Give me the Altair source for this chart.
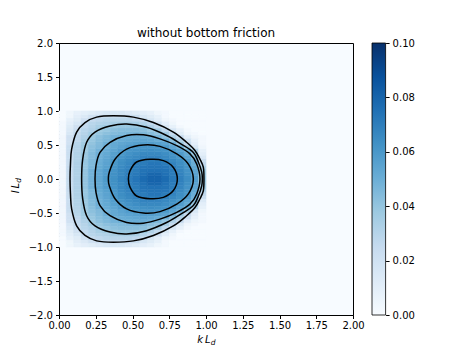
import altair as alt
import pandas as pd

# ---------------- data ----------------
k_centers = [0.025, 0.075, 0.125, 0.175, 0.225, 0.275, 0.325, 0.375, 0.425, 0.475,
             0.525, 0.575, 0.625, 0.675, 0.725, 0.775, 0.825, 0.875, 0.925, 0.975]
l_centers_upper = [0.025, 0.075, 0.125, 0.175, 0.225, 0.275, 0.325, 0.375, 0.425, 0.475,
                   0.525, 0.575, 0.625, 0.675, 0.725, 0.775, 0.825, 0.875, 0.925, 0.975]
cell_k = 0.05
cell_l = 0.05

# growth rate, one row per l (upper half; the field is symmetric in l)
growth_upper = [
    [0.003, 0.025, 0.032, 0.040, 0.048, 0.053, 0.059, 0.063, 0.067, 0.070, 0.073, 0.077, 0.080, 0.080, 0.077, 0.072, 0.069, 0.064, 0.057, 0.038],
    [0.003, 0.025, 0.032, 0.040, 0.048, 0.053, 0.058, 0.063, 0.066, 0.070, 0.072, 0.075, 0.079, 0.079, 0.075, 0.071, 0.068, 0.063, 0.055, 0.037],
    [0.003, 0.025, 0.032, 0.040, 0.048, 0.053, 0.058, 0.062, 0.066, 0.069, 0.071, 0.074, 0.075, 0.075, 0.074, 0.071, 0.067, 0.062, 0.054, 0.036],
    [0.003, 0.025, 0.032, 0.039, 0.046, 0.052, 0.056, 0.061, 0.065, 0.068, 0.071, 0.073, 0.074, 0.074, 0.073, 0.070, 0.066, 0.061, 0.053, 0.032],
    [0.003, 0.023, 0.032, 0.039, 0.045, 0.051, 0.055, 0.060, 0.064, 0.067, 0.070, 0.071, 0.073, 0.073, 0.071, 0.068, 0.064, 0.060, 0.051, 0.027],
    [0.003, 0.023, 0.031, 0.039, 0.045, 0.050, 0.054, 0.059, 0.063, 0.066, 0.068, 0.070, 0.071, 0.071, 0.069, 0.066, 0.063, 0.058, 0.049, 0.023],
    [0.003, 0.023, 0.031, 0.038, 0.044, 0.049, 0.053, 0.057, 0.061, 0.064, 0.066, 0.068, 0.068, 0.068, 0.066, 0.063, 0.060, 0.055, 0.044, 0.014],
    [0.003, 0.023, 0.031, 0.038, 0.044, 0.049, 0.052, 0.056, 0.059, 0.062, 0.064, 0.066, 0.066, 0.066, 0.064, 0.062, 0.058, 0.052, 0.039, 0.010],
    [0.003, 0.023, 0.030, 0.037, 0.043, 0.048, 0.051, 0.054, 0.058, 0.061, 0.062, 0.063, 0.064, 0.063, 0.062, 0.059, 0.055, 0.049, 0.032, 0.008],
    [0.003, 0.023, 0.030, 0.037, 0.042, 0.045, 0.049, 0.052, 0.055, 0.058, 0.060, 0.061, 0.061, 0.061, 0.059, 0.054, 0.049, 0.036, 0.016, 0.004],
    [0.003, 0.020, 0.029, 0.036, 0.040, 0.044, 0.049, 0.052, 0.053, 0.055, 0.056, 0.057, 0.057, 0.056, 0.054, 0.049, 0.038, 0.025, 0.010, 0.002],
    [0.003, 0.020, 0.027, 0.034, 0.039, 0.043, 0.046, 0.049, 0.051, 0.052, 0.053, 0.054, 0.053, 0.051, 0.049, 0.042, 0.032, 0.020, 0.008, 0.002],
    [0.003, 0.020, 0.027, 0.032, 0.038, 0.042, 0.045, 0.048, 0.050, 0.051, 0.051, 0.051, 0.050, 0.046, 0.040, 0.032, 0.025, 0.010, 0.004, 0.002],
    [0.002, 0.016, 0.026, 0.030, 0.036, 0.039, 0.042, 0.044, 0.045, 0.046, 0.046, 0.045, 0.043, 0.040, 0.036, 0.026, 0.012, 0.004, 0.002, 0.000],
    [0.002, 0.014, 0.023, 0.029, 0.032, 0.037, 0.039, 0.042, 0.043, 0.043, 0.043, 0.042, 0.039, 0.036, 0.027, 0.016, 0.008, 0.002, 0.000, 0.000],
    [0.002, 0.012, 0.020, 0.026, 0.030, 0.034, 0.037, 0.038, 0.039, 0.039, 0.039, 0.038, 0.032, 0.026, 0.016, 0.008, 0.002, 0.000, 0.000, 0.000],
    [0.002, 0.010, 0.016, 0.025, 0.029, 0.031, 0.032, 0.034, 0.034, 0.034, 0.034, 0.031, 0.027, 0.020, 0.010, 0.004, 0.000, 0.000, 0.000, 0.000],
    [0.000, 0.008, 0.012, 0.020, 0.025, 0.027, 0.029, 0.029, 0.029, 0.029, 0.027, 0.025, 0.016, 0.010, 0.004, 0.002, 0.000, 0.000, 0.000, 0.000],
    [0.000, 0.004, 0.010, 0.014, 0.020, 0.023, 0.025, 0.025, 0.025, 0.025, 0.023, 0.016, 0.012, 0.008, 0.002, 0.000, 0.000, 0.000, 0.000, 0.000],
    [0.000, 0.004, 0.008, 0.010, 0.012, 0.014, 0.016, 0.016, 0.016, 0.014, 0.012, 0.010, 0.008, 0.004, 0.002, 0.000, 0.000, 0.000, 0.000, 0.000],
]

# contour lines (upper half, from left l=0 over the top to right l=0)
contour_levels = [0.025, 0.038, 0.050, 0.060, 0.070]
contour_k = [
    [0.075, 0.078, 0.086, 0.120, 0.177, 0.256, 0.370, 0.506, 0.642, 0.778, 0.868, 0.925, 0.959, 0.982, 0.986],
    [0.154, 0.161, 0.188, 0.245, 0.347, 0.460, 0.596, 0.732, 0.834, 0.914, 0.948, 0.971, 0.975],
    [0.245, 0.252, 0.279, 0.347, 0.460, 0.574, 0.687, 0.801, 0.891, 0.937, 0.959],
    [0.336, 0.342, 0.381, 0.460, 0.574, 0.687, 0.801, 0.880, 0.914],
    [0.472, 0.483, 0.528, 0.619, 0.710, 0.778, 0.805],
]
contour_l = [
    [0.00, 0.22, 0.44, 0.69, 0.83, 0.91, 0.93, 0.91, 0.83, 0.69, 0.54, 0.42, 0.29, 0.17, 0.00],
    [0.00, 0.29, 0.54, 0.69, 0.78, 0.81, 0.76, 0.64, 0.51, 0.39, 0.25, 0.10, 0.00],
    [0.00, 0.20, 0.39, 0.54, 0.64, 0.65, 0.59, 0.49, 0.37, 0.22, 0.00],
    [0.00, 0.10, 0.29, 0.44, 0.50, 0.48, 0.37, 0.22, 0.00],
    [0.00, 0.12, 0.25, 0.29, 0.27, 0.17, 0.00],
]

x_ticks = [0.0, 0.25, 0.5, 0.75, 1.0, 1.25, 1.5, 1.75, 2.0]
y_ticks = [-2.0, -1.5, -1.0, -0.5, 0.0, 0.5, 1.0, 1.5, 2.0]
cbar_ticks = [0.0, 0.02, 0.04, 0.06, 0.08, 0.10]
title_text = "without bottom friction"

# matplotlib "Blues"
blues = ["#f7fbff", "#deebf7", "#c6dbef", "#9ecae1", "#6baed6",
         "#4292c6", "#2171b5", "#08519c", "#08306b"]
vmin, vmax = 0.0, 0.1
blues_domain = [vmin + (vmax - vmin) * i / 8 for i in range(9)]

# ---------------- tables ----------------
cells = []
for i, lc in enumerate(l_centers_upper):
    for j, kc in enumerate(k_centers):
        v = growth_upper[i][j]
        for s in (1, -1):
            c = s * lc
            cells.append({"k0": kc - cell_k / 2, "k1": kc + cell_k / 2,
                          "l0": c - cell_l / 2, "l1": c + cell_l / 2, "v": v})
cells_df = pd.DataFrame(cells)

cont_rows = []
for lev, ks, ls in zip(contour_levels, contour_k, contour_l):
    pts = list(zip(ks, ls))
    lower = [(k, -l) for k, l in reversed(pts)][1:-1]
    for idx, (k, l) in enumerate(pts + lower):
        cont_rows.append({"level": lev, "idx": idx, "k": k, "l": l})
cont_df = pd.DataFrame(cont_rows)

FONT = "DejaVu Sans"
W, H = 294, 272

color_scale = alt.Scale(domain=blues_domain, range=blues, interpolate="rgb", clamp=True)
x_scale = alt.Scale(domain=[0, 2], nice=False, zero=False)
y_scale = alt.Scale(domain=[-2, 2], nice=False, zero=False)

x_axis = alt.Axis(values=x_ticks, format=".2f", title=None, grid=False,
                  tickSize=3.5, labelPadding=2, labelFontSize=10, labelFont=FONT,
                  labelColor="black", tickColor="black", domainColor="black",
                  labelFlush=False, labelOverlap=False)
y_axis = alt.Axis(values=y_ticks, format=".1f", title=None, grid=False,
                  tickSize=3.5, labelPadding=3, labelFontSize=10, labelFont=FONT,
                  labelColor="black", tickColor="black", domainColor="black",
                  labelFlush=False, labelOverlap=False)

heat = alt.Chart(cells_df).mark_rect(strokeWidth=0.6).encode(
    x=alt.X("k0:Q", scale=x_scale, axis=x_axis),
    x2="k1:Q",
    y=alt.Y("l0:Q", scale=y_scale, axis=y_axis),
    y2="l1:Q",
    color=alt.Color("v:Q", scale=color_scale, legend=None),
    stroke=alt.Stroke("v:Q", scale=color_scale, legend=None),
)

contours = alt.Chart(cont_df).mark_line(
    color="black", strokeWidth=1.5, interpolate="cardinal-closed"
).encode(
    x=alt.X("k:Q", scale=x_scale, axis=x_axis),
    y=alt.Y("l:Q", scale=y_scale, axis=y_axis),
    detail="level:N",
    order=alt.Order("idx:Q"),
)

# axis titles with subscripts
xlab_main = alt.Chart(pd.DataFrame({"t": ["k\u2009L"]})).mark_text(
    font=FONT, fontSize=10, fontStyle="italic", align="right", baseline="alphabetic", color="black"
).encode(text="t:N", x=alt.value(151.5), y=alt.value(300))
xlab_sub = alt.Chart(pd.DataFrame({"t": ["d"]})).mark_text(
    font=FONT, fontSize=7.5, fontStyle="italic", align="left", baseline="alphabetic", color="black"
).encode(text="t:N", x=alt.value(151.8), y=alt.value(302))

ylab_main = alt.Chart(pd.DataFrame({"t": ["l\u2009L"]})).mark_text(
    font=FONT, fontSize=10, fontStyle="italic", align="right", baseline="alphabetic",
    angle=270, color="black"
).encode(text="t:N", x=alt.value(-40), y=alt.value(140))
ylab_sub = alt.Chart(pd.DataFrame({"t": ["d"]})).mark_text(
    font=FONT, fontSize=7.5, fontStyle="italic", align="left", baseline="alphabetic",
    angle=270, color="black"
).encode(text="t:N", x=alt.value(-38), y=alt.value(139.7))

# colorbar
cbar_df = pd.DataFrame({"lo": [vmin], "hi": [vmax]})
grad = alt.LinearGradient(
    gradient="linear",
    stops=[alt.GradientStop(color=c, offset=i / 8) for i, c in enumerate(blues)],
    x1=0, x2=0, y1=1, y2=0,
)
cbar = alt.Chart(cbar_df).mark_rect(fill=grad, stroke="black", strokeWidth=0.8).encode(
    x=alt.value(313), x2=alt.value(326.6),
    y=alt.Y("lo:Q", scale=alt.Scale(domain=[vmin, vmax], nice=False, zero=False),
            axis=alt.Axis(orient="right", offset=32.6, values=cbar_ticks, format=".2f",
                          title=None, grid=False, domain=False, tickSize=3.5, labelPadding=3,
                          labelFontSize=10, labelFont=FONT, labelColor="black",
                          tickColor="black", labelFlush=False, labelOverlap=False)),
    y2="hi:Q",
)

main = alt.layer(heat, contours, xlab_main, xlab_sub, ylab_main, ylab_sub)

chart = alt.layer(main, cbar).resolve_scale(y="independent").properties(
    width=W, height=H,
    background="white",
    title=alt.TitleParams(title_text, fontSize=12, fontWeight="normal", font=FONT,
                          color="black", anchor="middle", frame="group", offset=-2),
    autosize=alt.AutoSizeParams(type="none"),
    padding={"left": 51, "top": 35, "right": 112, "bottom": 32},
).configure_view(
    stroke="black", strokeWidth=1, fill="#f7fbff"
)

chart.save("out.html", embed_options={"renderer": "svg", "actions": False})
